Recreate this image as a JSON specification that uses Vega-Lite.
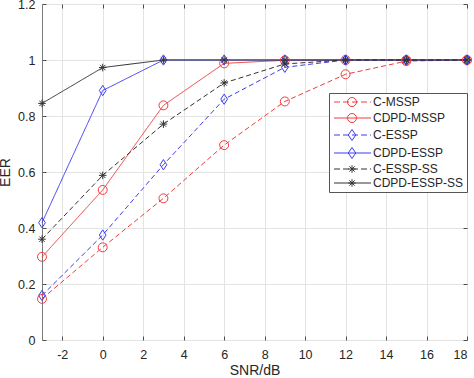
{
  "$schema": "https://vega.github.io/schema/vega-lite/v6.json",
  "width": 425,
  "height": 336,
  "autosize": "none",
  "padding": {"left": 42, "top": 4, "right": 7, "bottom": 38},
  "background": "white",
  "config": {
    "font": "Liberation Sans",
    "view": {"stroke": "#7a7a7a", "strokeWidth": 1},
    "axis": {
      "domain": false,
      "ticks": true,
      "tickSize": -4,
      "tickColor": "#4d4d4d",
      "gridColor": "#e3e3e3",
      "gridWidth": 1,
      "labelFontSize": 12.5,
      "labelColor": "#262626",
      "titleFontSize": 14,
      "titleFontWeight": "normal",
      "titleColor": "#262626"
    }
  },
  "data": {
    "values": [
      {"series": "C-MSSP", "snr": -3, "eer": 0.147},
      {"series": "C-MSSP", "snr": 0, "eer": 0.331},
      {"series": "C-MSSP", "snr": 3, "eer": 0.506},
      {"series": "C-MSSP", "snr": 6, "eer": 0.696},
      {"series": "C-MSSP", "snr": 9, "eer": 0.852},
      {"series": "C-MSSP", "snr": 12, "eer": 0.949},
      {"series": "C-MSSP", "snr": 15, "eer": 0.996},
      {"series": "C-MSSP", "snr": 18, "eer": 1.0},
      {"series": "CDPD-MSSP", "snr": -3, "eer": 0.297},
      {"series": "CDPD-MSSP", "snr": 0, "eer": 0.536},
      {"series": "CDPD-MSSP", "snr": 3, "eer": 0.838},
      {"series": "CDPD-MSSP", "snr": 6, "eer": 0.988},
      {"series": "CDPD-MSSP", "snr": 9, "eer": 0.999},
      {"series": "CDPD-MSSP", "snr": 12, "eer": 1.0},
      {"series": "CDPD-MSSP", "snr": 15, "eer": 1.0},
      {"series": "CDPD-MSSP", "snr": 18, "eer": 1.0},
      {"series": "C-ESSP", "snr": -3, "eer": 0.159},
      {"series": "C-ESSP", "snr": 0, "eer": 0.375},
      {"series": "C-ESSP", "snr": 3, "eer": 0.626},
      {"series": "C-ESSP", "snr": 6, "eer": 0.86},
      {"series": "C-ESSP", "snr": 9, "eer": 0.974},
      {"series": "C-ESSP", "snr": 12, "eer": 1.0},
      {"series": "C-ESSP", "snr": 15, "eer": 1.0},
      {"series": "C-ESSP", "snr": 18, "eer": 1.0},
      {"series": "CDPD-ESSP", "snr": -3, "eer": 0.419},
      {"series": "CDPD-ESSP", "snr": 0, "eer": 0.891},
      {"series": "CDPD-ESSP", "snr": 3, "eer": 1.0},
      {"series": "CDPD-ESSP", "snr": 6, "eer": 1.0},
      {"series": "CDPD-ESSP", "snr": 9, "eer": 1.0},
      {"series": "CDPD-ESSP", "snr": 12, "eer": 1.0},
      {"series": "CDPD-ESSP", "snr": 15, "eer": 1.0},
      {"series": "CDPD-ESSP", "snr": 18, "eer": 1.0},
      {"series": "C-ESSP-SS", "snr": -3, "eer": 0.36},
      {"series": "C-ESSP-SS", "snr": 0, "eer": 0.588},
      {"series": "C-ESSP-SS", "snr": 3, "eer": 0.771},
      {"series": "C-ESSP-SS", "snr": 6, "eer": 0.918},
      {"series": "C-ESSP-SS", "snr": 9, "eer": 0.986},
      {"series": "C-ESSP-SS", "snr": 12, "eer": 1.0},
      {"series": "C-ESSP-SS", "snr": 15, "eer": 1.0},
      {"series": "C-ESSP-SS", "snr": 18, "eer": 1.0},
      {"series": "CDPD-ESSP-SS", "snr": -3, "eer": 0.845},
      {"series": "CDPD-ESSP-SS", "snr": 0, "eer": 0.973},
      {"series": "CDPD-ESSP-SS", "snr": 3, "eer": 1.0},
      {"series": "CDPD-ESSP-SS", "snr": 6, "eer": 1.0},
      {"series": "CDPD-ESSP-SS", "snr": 9, "eer": 1.0},
      {"series": "CDPD-ESSP-SS", "snr": 12, "eer": 1.0},
      {"series": "CDPD-ESSP-SS", "snr": 15, "eer": 1.0},
      {"series": "CDPD-ESSP-SS", "snr": 18, "eer": 1.0}
    ]
  },
  "encoding": {
    "x": {
      "field": "snr",
      "type": "quantitative",
      "scale": {"domain": [-3, 18], "nice": false, "zero": false},
      "axis": {
        "title": "SNR/dB",
        "values": [-2, 0, 2, 4, 6, 8, 10, 12, 14, 16, 18],
        "labelExpr": "'' + datum.value",
        "labelPadding": 12,
        "titlePadding": 3
      }
    },
    "y": {
      "field": "eer",
      "type": "quantitative",
      "scale": {"domain": [0, 1.2], "nice": false},
      "axis": {
        "title": "EER",
        "values": [0, 0.2, 0.4, 0.6, 0.8, 1, 1.2],
        "labelExpr": "'' + datum.value",
        "labelPadding": 11,
        "titlePadding": 5
      }
    },
    "color": {
      "field": "series",
      "type": "nominal",
      "scale": {
        "domain": ["C-MSSP", "CDPD-MSSP", "C-ESSP", "CDPD-ESSP", "C-ESSP-SS", "CDPD-ESSP-SS"],
        "range": ["#f03c3c", "#f03c3c", "#3c3cf0", "#3c3cf0", "#333333", "#333333"]
      },
      "legend": null
    }
  },
  "layer": [
    {
      "mark": {"type": "line", "strokeWidth": 1},
      "encoding": {
        "strokeDash": {
          "field": "series",
          "type": "nominal",
          "scale": {
            "domain": ["C-MSSP", "CDPD-MSSP", "C-ESSP", "CDPD-ESSP", "C-ESSP-SS", "CDPD-ESSP-SS"],
            "range": [[5, 3], [1, 0], [5, 3], [1, 0], [5, 3], [1, 0]]
          },
          "legend": null
        }
      }
    },
    {
      "mark": {"type": "point", "filled": false, "strokeWidth": 1, "size": 80, "opacity": 1},
      "encoding": {
        "x": {"field": "snr", "type": "quantitative", "axis": null},
        "y": {"field": "eer", "type": "quantitative", "axis": null},
        "shape": {
          "field": "series",
          "type": "nominal",
          "scale": {
            "domain": ["C-MSSP", "CDPD-MSSP", "C-ESSP", "CDPD-ESSP", "C-ESSP-SS", "CDPD-ESSP-SS"],
            "range": ["circle", "circle", "M0,-1.15L0.75,0L0,1.15L-0.75,0Z", "M0,-1.15L0.75,0L0,1.15L-0.75,0Z", "M-0.85,0H0.85M0,-0.85V0.85M-0.6,-0.6L0.6,0.6M-0.6,0.6L0.6,-0.6", "M-0.85,0H0.85M0,-0.85V0.85M-0.6,-0.6L0.6,0.6M-0.6,0.6L0.6,-0.6"]
          },
          "legend": null
        }
      }
    },
    {
      "mark": {"type": "point", "opacity": 0},
      "encoding": {
        "x": {"field": "snr", "type": "quantitative", "axis": {"orient": "top", "labels": false, "title": null, "grid": false, "values": [-2, 0, 2, 4, 6, 8, 10, 12, 14, 16, 18]}},
        "y": {"field": "eer", "type": "quantitative", "axis": {"orient": "right", "labels": false, "title": null, "grid": false, "values": [0, 0.2, 0.4, 0.6, 0.8, 1, 1.2]}}
      }
    },
    {
      "transform": [{"filter": "datum.eer > 5"}],
      "mark": {"type": "point", "filled": false, "strokeWidth": 1, "opacity": 1},
      "encoding": {
        "x": {"field": "snr", "type": "quantitative", "axis": null},
        "y": {"field": "eer", "type": "quantitative", "axis": null},
        "color": {
          "field": "series",
          "type": "nominal",
          "scale": {
            "domain": ["C-MSSP", "CDPD-MSSP", "C-ESSP", "CDPD-ESSP", "C-ESSP-SS", "CDPD-ESSP-SS"],
            "range": ["#f03c3c", "#f03c3c", "#3c3cf0", "#3c3cf0", "#333333", "#333333"]
          },
          "legend": {
            "orient": "none",
            "legendX": 287,
            "legendY": 89,
            "title": null,
            "padding": 3,
            "rowPadding": 2,
            "symbolSize": 100,
            "symbolStrokeWidth": 1,
            "labelOffset": 29,
            "labelFontSize": 12,
            "labelColor": "#262626",
            "strokeColor": "#555555",
            "fillColor": "white"
          }
        },
        "shape": {
          "field": "series",
          "type": "nominal",
          "scale": {
            "domain": ["C-MSSP", "CDPD-MSSP", "C-ESSP", "CDPD-ESSP", "C-ESSP-SS", "CDPD-ESSP-SS"],
            "range": [
              "M-0.8,0H0.4M1,0H2.2M2.8,0H4M4.6,0H5.8M6.4,0H6.6M3.7,0A0.9,0.9,0,1,1,1.9,0A0.9,0.9,0,1,1,3.7,0",
              "M-0.8,0H6.6M3.7,0A0.9,0.9,0,1,1,1.9,0A0.9,0.9,0,1,1,3.7,0",
              "M-0.8,0H0.4M1,0H2.2M2.8,0H4M4.6,0H5.8M6.4,0H6.6M2.8,-1.1L3.55,0L2.8,1.1L2.05,0Z",
              "M-0.8,0H6.6M2.8,-1.1L3.55,0L2.8,1.1L2.05,0Z",
              "M-0.8,0H0.4M1,0H2.2M2.8,0H4M4.6,0H5.8M6.4,0H6.6M2.05,0H3.55M2.8,-0.75V0.75M2.27,-0.53L3.33,0.53M2.27,0.53L3.33,-0.53",
              "M-0.8,0H6.6M2.05,0H3.55M2.8,-0.75V0.75M2.27,-0.53L3.33,0.53M2.27,0.53L3.33,-0.53"
            ]
          },
          "legend": {
            "orient": "none",
            "legendX": 287,
            "legendY": 89,
            "title": null,
            "padding": 3,
            "rowPadding": 2,
            "symbolSize": 100,
            "symbolStrokeWidth": 1,
            "labelOffset": 29,
            "labelFontSize": 12,
            "labelColor": "#262626",
            "strokeColor": "#555555",
            "fillColor": "white"
          }
        }
      }
    }
  ],
  "resolve": {"scale": {"shape": "independent", "color": "independent"}, "axis": {"x": "independent", "y": "independent"}}
}
